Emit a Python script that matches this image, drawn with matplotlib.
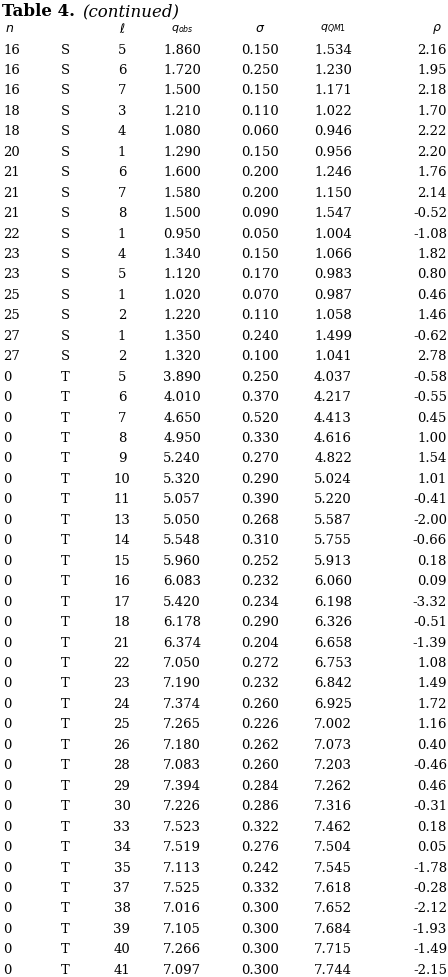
import matplotlib.pyplot as plt

n_vals = [16, 16, 16, 18, 18, 20, 21, 21, 21, 22, 23, 23, 25, 25, 27, 27] + [0] * 30
mode = ['S'] * 16 + ['T'] * 30
ell = [5, 6, 7, 3, 4, 1, 6, 7, 8, 1, 4, 5, 1, 2, 1, 2,
       5, 6, 7, 8, 9, 10, 11, 13, 14, 15, 16, 17, 18, 21, 22, 23, 24, 25,
       26, 28, 29, 30, 33, 34, 35, 37, 38, 39, 40, 41]
q_obs = ['1.860', '1.720', '1.500', '1.210', '1.080', '1.290', '1.600', '1.580',
         '1.500', '0.950', '1.340', '1.120', '1.020', '1.220', '1.350', '1.320',
         '3.890', '4.010', '4.650', '4.950', '5.240', '5.320', '5.057', '5.050',
         '5.548', '5.960', '6.083', '5.420', '6.178', '6.374', '7.050', '7.190',
         '7.374', '7.265', '7.180', '7.083', '7.394', '7.226', '7.523', '7.519',
         '7.113', '7.525', '7.016', '7.105', '7.266', '7.097']
sigma = ['0.150', '0.250', '0.150', '0.110', '0.060', '0.150', '0.200', '0.200',
         '0.090', '0.050', '0.150', '0.170', '0.070', '0.110', '0.240', '0.100',
         '0.250', '0.370', '0.520', '0.330', '0.270', '0.290', '0.390', '0.268',
         '0.310', '0.252', '0.232', '0.234', '0.290', '0.204', '0.272', '0.232',
         '0.260', '0.226', '0.262', '0.260', '0.284', '0.286', '0.322', '0.276',
         '0.242', '0.332', '0.300', '0.300', '0.300', '0.300']
q_qm = ['1.534', '1.230', '1.171', '1.022', '0.946', '0.956', '1.246', '1.150',
        '1.547', '1.004', '1.066', '0.983', '0.987', '1.058', '1.499', '1.041',
        '4.037', '4.217', '4.413', '4.616', '4.822', '5.024', '5.220', '5.587',
        '5.755', '5.913', '6.060', '6.198', '6.326', '6.658', '6.753', '6.842',
        '6.925', '7.002', '7.073', '7.203', '7.262', '7.316', '7.462', '7.504',
        '7.545', '7.618', '7.652', '7.684', '7.715', '7.744']
rho = ['2.16', '1.95', '2.18', '1.70', '2.22', '2.20', '1.76', '2.14', '-0.52',
       '-1.08', '1.82', '0.80', '0.46', '1.46', '-0.62', '2.78',
       '-0.58', '-0.55', '0.45', '1.00', '1.54', '1.01', '-0.41', '-2.00',
       '-0.66', '0.18', '0.09', '-3.32', '-0.51', '-1.39', '1.08', '1.49',
       '1.72', '1.16', '0.40', '-0.46', '0.46', '-0.31', '0.18', '0.05',
       '-1.78', '-0.28', '-2.12', '-1.93', '-1.49', '-2.15']

W, H = 448, 978
fig = plt.figure(figsize=(W / 100, H / 100), dpi=100)
ax = fig.add_axes([0, 0, 1, 1])
ax.set_xlim(0, W)
ax.set_ylim(H, 0)
ax.axis('off')

font = dict(family='DejaVu Serif', fontsize=9.5, va='center')
ax.text(2, 12, 'Table 4.', fontsize=12, fontweight='bold', family='DejaVu Serif', va='center')
ax.text(82, 12, '(continued)', fontsize=12, style='italic', family='DejaVu Serif', va='center')

hy = 29
ax.text(5, hy, r'$n$', fontsize=9, va='center')
ax.text(122, hy, r'$\ell$', fontsize=9, va='center', ha='center')
ax.text(182, hy, r'$q_{obs}$', fontsize=8, va='center', ha='center')
ax.text(260, hy, r'$\sigma$', fontsize=9, va='center', ha='center')
ax.text(333, hy, r'$q_{QM1}$', fontsize=8, va='center', ha='center')
ax.text(437, hy, r'$\rho$', fontsize=9, va='center', ha='center')

y0, dy = 50, 20.45
for i in range(len(ell)):
    y = y0 + i * dy
    ax.text(3, y, str(n_vals[i]), ha='left', **font)
    ax.text(65, y, mode[i], ha='center', **font)
    ax.text(122, y, str(ell[i]), ha='center', **font)
    ax.text(182, y, q_obs[i], ha='center', **font)
    ax.text(260, y, sigma[i], ha='center', **font)
    ax.text(333, y, q_qm[i], ha='center', **font)
    ax.text(447, y, rho[i], ha='right', **font)

fig.savefig('out.png', dpi=100)
